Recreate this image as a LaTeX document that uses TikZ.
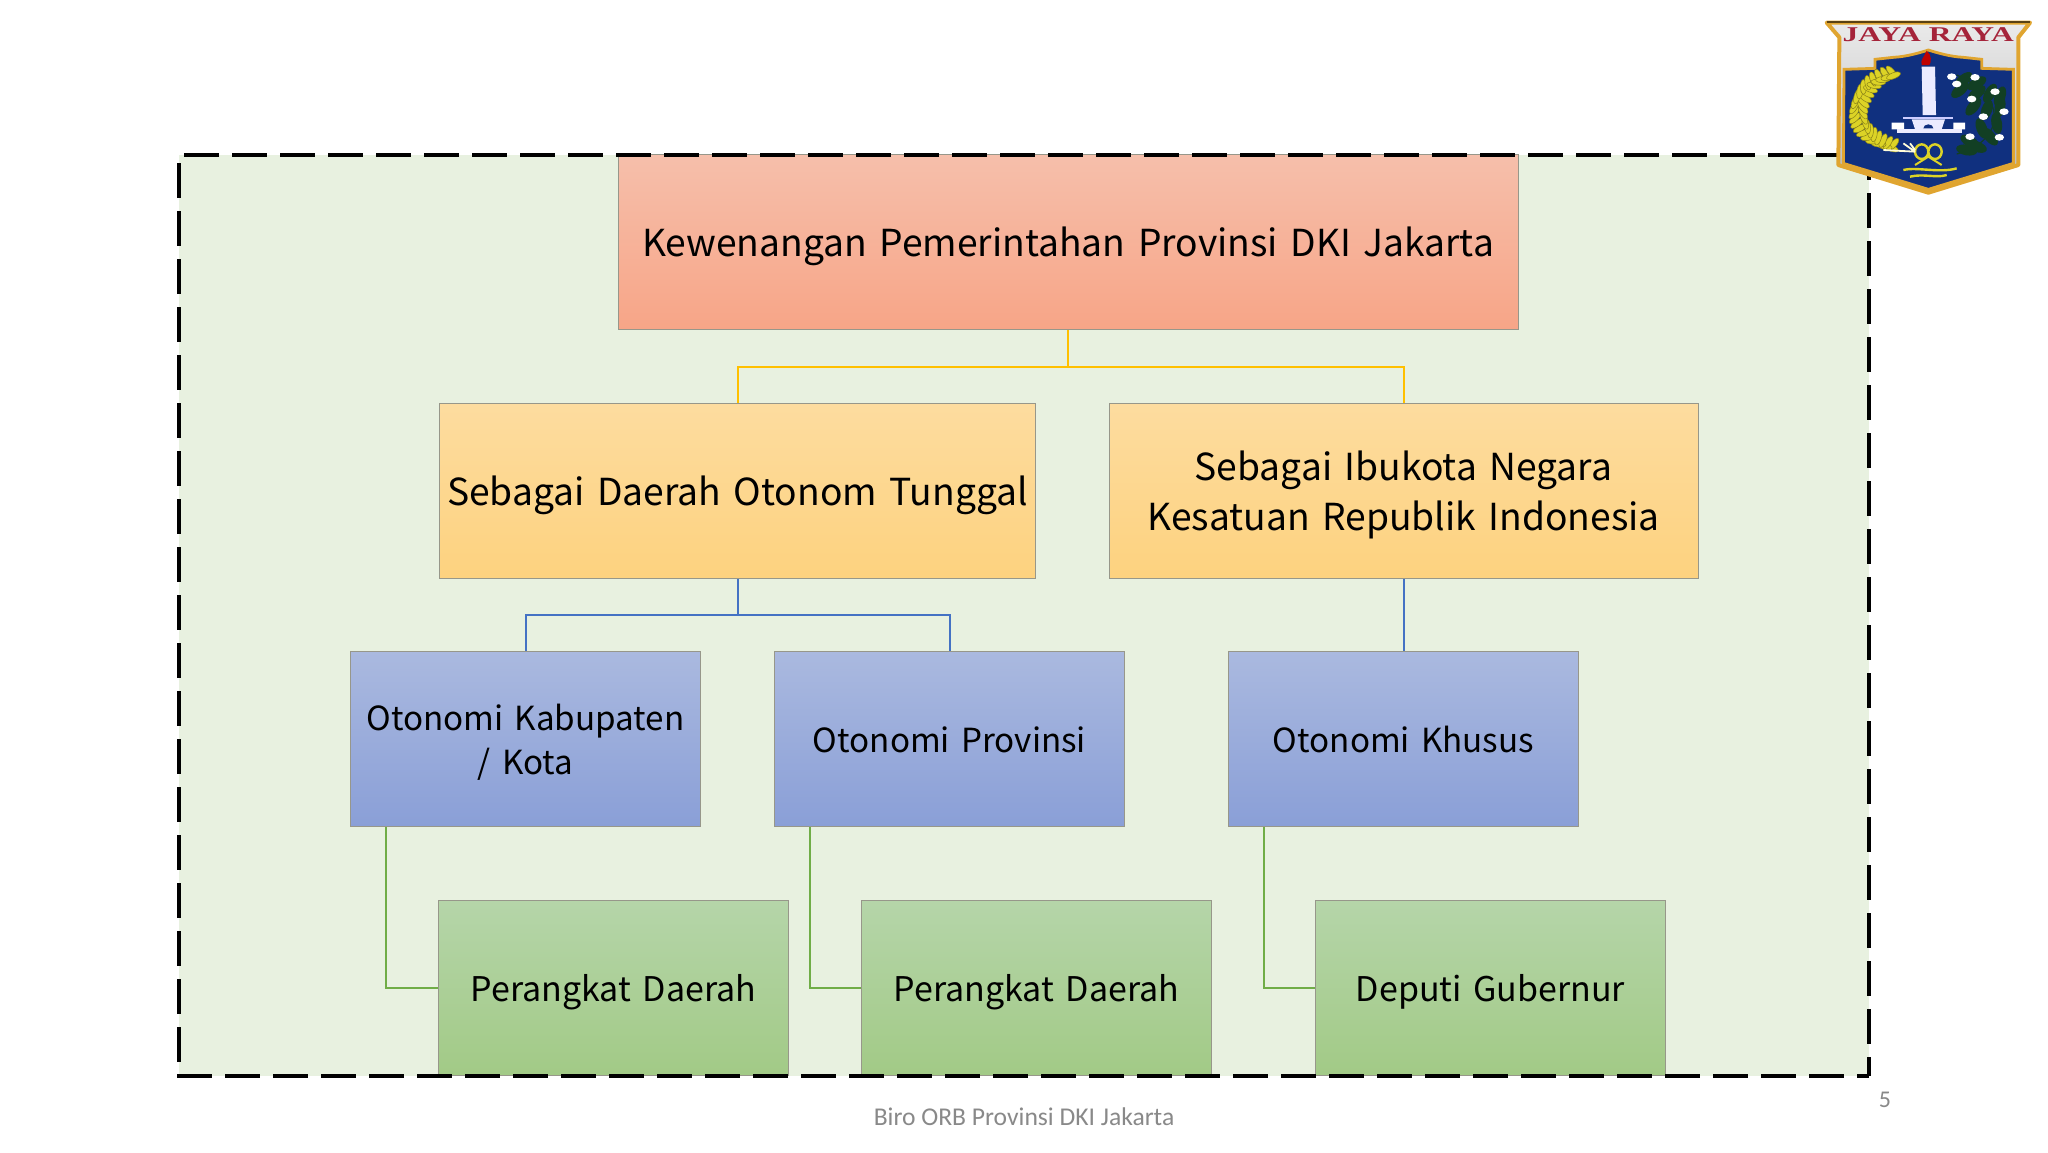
\documentclass[tikz,border=0pt]{standalone}
\usepackage{fontspec}
\setmainfont{Liberation Sans}
\newfontfamily\boxfont[WordSpace=1.5]{Noto Sans CJK JP}
\newfontfamily\footfont{Carlito}
\newfontfamily\mottofont[FakeStretch=1.5]{Liberation Serif}
\usetikzlibrary{calc}
% fixed-height struts set the baseline of the text in each box
\newcommand\hiA{\rule{0pt}{22pt}}
\newcommand\loA{\rule[-7.5pt]{0pt}{7.5pt}}
\newcommand\hiB{\rule{0pt}{21pt}}
\newcommand\loB{\rule[-8pt]{0pt}{8pt}}
\tikzset{
  box/.style={draw=boxedge,line width=.5pt,inner sep=0pt,minimum height=87.5pt,align=center,text=black,boxtext},
  boxtext/.style={font=\boxfont\fontsize{18.6}{25}\selectfont},
  smalltext/.style={font=\boxfont\fontsize{16.6}{22}\selectfont},
  fourtext/.style={font=\boxfont\fontsize{17}{22}\selectfont},
  lone/.style={box,top color=redA,bottom color=redB,minimum width=450pt},
  ltwo/.style={box,top color=orA,bottom color=orB},
  lthree/.style={box,smalltext,top color=blA,bottom color=blB,minimum width=175pt},
  lfour/.style={box,fourtext,top color=grA,bottom color=grB,minimum width=175pt},
  goldline/.style={draw=linegold,line width=1pt},
  blueline/.style={draw=lineblue,line width=1pt},
  greenline/.style={draw=linegreen,line width=1pt},
  frameline/.style={draw=black,line width=2.4pt,dash pattern=on 17.5pt off 6.5pt},
  grain/.style={fill=grainY,draw=grainD,line width=.25pt},
  leaf/.style={fill=leafG,draw=none},
  boll/.style={fill=white,draw=none},
}
\definecolor{panel}{HTML}{E8F1E0}
\definecolor{boxedge}{HTML}{97978A}
\definecolor{redA}{HTML}{F6BFAB}\definecolor{redB}{HTML}{F7A587}
\definecolor{orA}{HTML}{FDDC9F}\definecolor{orB}{HTML}{FDD27F}
\definecolor{blA}{HTML}{AAB9DF}\definecolor{blB}{HTML}{8A9FD7}
\definecolor{grA}{HTML}{B5D5A9}\definecolor{grB}{HTML}{A2CA86}
\definecolor{linegold}{HTML}{FFC000}
\definecolor{lineblue}{HTML}{4472C4}
\definecolor{linegreen}{HTML}{70AD47}
\definecolor{foot}{HTML}{898989}
\definecolor{shieldgold}{HTML}{E0A530}
\definecolor{navy}{HTML}{10307F}
\definecolor{grainY}{HTML}{DCD326}\definecolor{grainD}{HTML}{8A8218}
\definecolor{leafG}{HTML}{123F24}
\definecolor{motto}{HTML}{A5243A}
\begin{document}
\begin{tikzpicture}[x=.5pt,y=-.5pt]
\useasboundingbox (0,0) rectangle (2048,1152);
\fill[white] (0,0) rectangle (2048,1152);
\fill[panel] (179,155) rectangle (1869,1076);

\node[lone] (top) at (1068,242) {\hiA Kewenangan Pemerintahan Provinsi DKI Jakarta\loA};
\node[ltwo,minimum width=298pt] (a) at (737.5,491) {\hiA Sebagai Daerah Otonom Tunggal\loA};
\node[ltwo,minimum width=294.5pt] (b) at (1403.5,491) {\hiA Sebagai Ibukota Negara\\Kesatuan Republik Indonesia\loA};
\node[lthree] (c) at (525.5,739) {\hiB Otonomi Kabupaten\\/ Kota\loB};
\node[lthree] (d) at (949.5,739) {\hiB Otonomi Provinsi\loB};
\node[lthree] (e) at (1403.5,739) {\hiB Otonomi Khusus\loB};
\node[lfour] (f) at (613.5,988) {\hiB Perangkat Daerah\loB};
\node[lfour] (g) at (1036.5,988) {\hiB Perangkat Daerah\loB};
\node[lfour] (h) at (1490.5,988) {\hiB Deputi Gubernur\loB};

\draw[goldline] (top.south) -- ++(0,37) -| (a.north);
\draw[goldline] (top.south) -- ++(0,37) -| (b.north);
\draw[blueline] (a.south) -- ++(0,36) -| (c.north);
\draw[blueline] (a.south) -- ++(0,36) -| (d.north);
\draw[blueline] (b.south) -- (e.north);
\draw[greenline] ($(c.south west)+(36,0)$) |- (f.west);
\draw[greenline] ($(d.south west)+(36,0)$) |- (g.west);
\draw[greenline] ($(e.south west)+(36,0)$) |- (h.west);

\coordinate (tl) at (179,155);
\coordinate (tr) at (1869,155);
\coordinate (bl) at (179,1076);
\coordinate (br) at (1869,1076);
\draw[frameline] ($(tl)+(5,0)$) -- (tr);
\draw[frameline,dash phase=5pt] (tr) -- (br);
\draw[frameline] ($(bl)+(-2,0)$) -- (br);
\draw[frameline] ($(tl)+(0,8)$) -- (bl);

\node[font=\footfont\fontsize{12.8}{14}\selectfont,text=foot,inner sep=0pt] (footer) at (1024,1117) {Biro ORB Provinsi DKI Jakarta};
\node[font=\footfont\fontsize{12}{14}\selectfont,text=foot,inner sep=0pt] (pagenum) at (1885,1100) {5};

% emblem
\begin{scope}[shift={(1800,0)},x=.16667pt,y=-.16667pt]
  \path[top color=white!92!black,bottom color=white!72!black,draw=shieldgold,line width=2pt,line join=round]
    (80,68) -- (690,68) -- (655,112) -- (655,495) -- (385,578) -- (115,495) -- (118,112) -- cycle;
  \draw[draw=black!60!shieldgold,line width=.6pt] (80,66) -- (690,66);
  \path[fill=navy,draw=shieldgold,line width=1.4pt]
    (132,208) -- (225,205) -- (225,178) -- (280,172) .. controls (320,170) and (360,158) .. (385,150)
    .. controls (410,158) and (450,170) .. (490,172) -- (545,178) -- (545,205) -- (640,208)
    -- (640,490) -- (385,568) -- (130,490) -- cycle;
  \foreach \t in {104,112,...,256}{
    \path[grain] ({310+148*cos(\t)},{330+118*sin(\t)}) ellipse [x radius=22,y radius=9,rotate=\t+55];
    \path[grain] ({310+122*cos(\t)},{330+106*sin(\t)}) ellipse [x radius=22,y radius=9,rotate=\t-55];
  }
  \foreach \x/\y/\a in {490/240/40,530/250/30,570/280/60,600/320/80,590/370/100,570/410/130,530/440/160,500/450/170,545/385/110,520/320/50,480/270/40,560/330/70,600/290/70,530/280/40,510/425/150}{
    \path[leaf] (\x,\y) ellipse [x radius=32,y radius=16,rotate=\a];
  }
  \draw[leafG,line width=.6pt] (470,462) .. controls (600,430) and (640,300) .. (470,225);
  \foreach \x/\y in {455/230,470/252,525/232,585/275,515/297,550/350,612/335,598/412,510/410}{
    \path[boll] (\x,\y) ellipse [x radius=14,y radius=10];
  }
  \path[fill=red!75!black] (380,152) .. controls (395,165) and (395,185) .. (388,195) -- (365,195) .. controls (360,180) and (372,172) .. (380,152) -- cycle;
  \path[fill=white!92!blue] (365,200) -- (405,200) -- (408,345) -- (368,345) -- cycle;
  \path[fill=white!80!blue] (310,350) -- (460,350) -- (460,358) -- (310,358) -- cycle;
  \path[fill=white!92!blue] (335,358) -- (435,358) -- (425,388) -- (345,388) -- cycle;
  \path[fill=navy] (370,385) arc (180:360:15 and 12) -- cycle;
  \path[fill=white] (275,368) rectangle (312,388) (460,368) rectangle (495,388);
  \path[fill=white!92!blue] (290,388) rectangle (485,400);
  \draw[grainY,line width=1.2pt] (365,455) ellipse [x radius=20,y radius=22] (405,455) ellipse [x radius=20,y radius=22];
  \draw[grainY,line width=1pt] (385,470) -- (345,495) (385,470) -- (425,495);
  \draw[white!85!yellow,line width=.9pt] (250,450) -- (345,455) (310,430) -- (345,455) (330,430) -- (345,450);
  \draw[grainY,line width=1.2pt] (310,510) .. controls (350,500) and (420,520) .. (470,505)
    (330,530) .. controls (370,520) and (410,535) .. (440,525);
  \node[font=\mottofont\bfseries\fontsize{10.5}{10}\selectfont,text=motto,inner sep=0pt] (mottotext) at (385,105) {JAYA RAYA};
\end{scope}
\end{tikzpicture}
\end{document}
